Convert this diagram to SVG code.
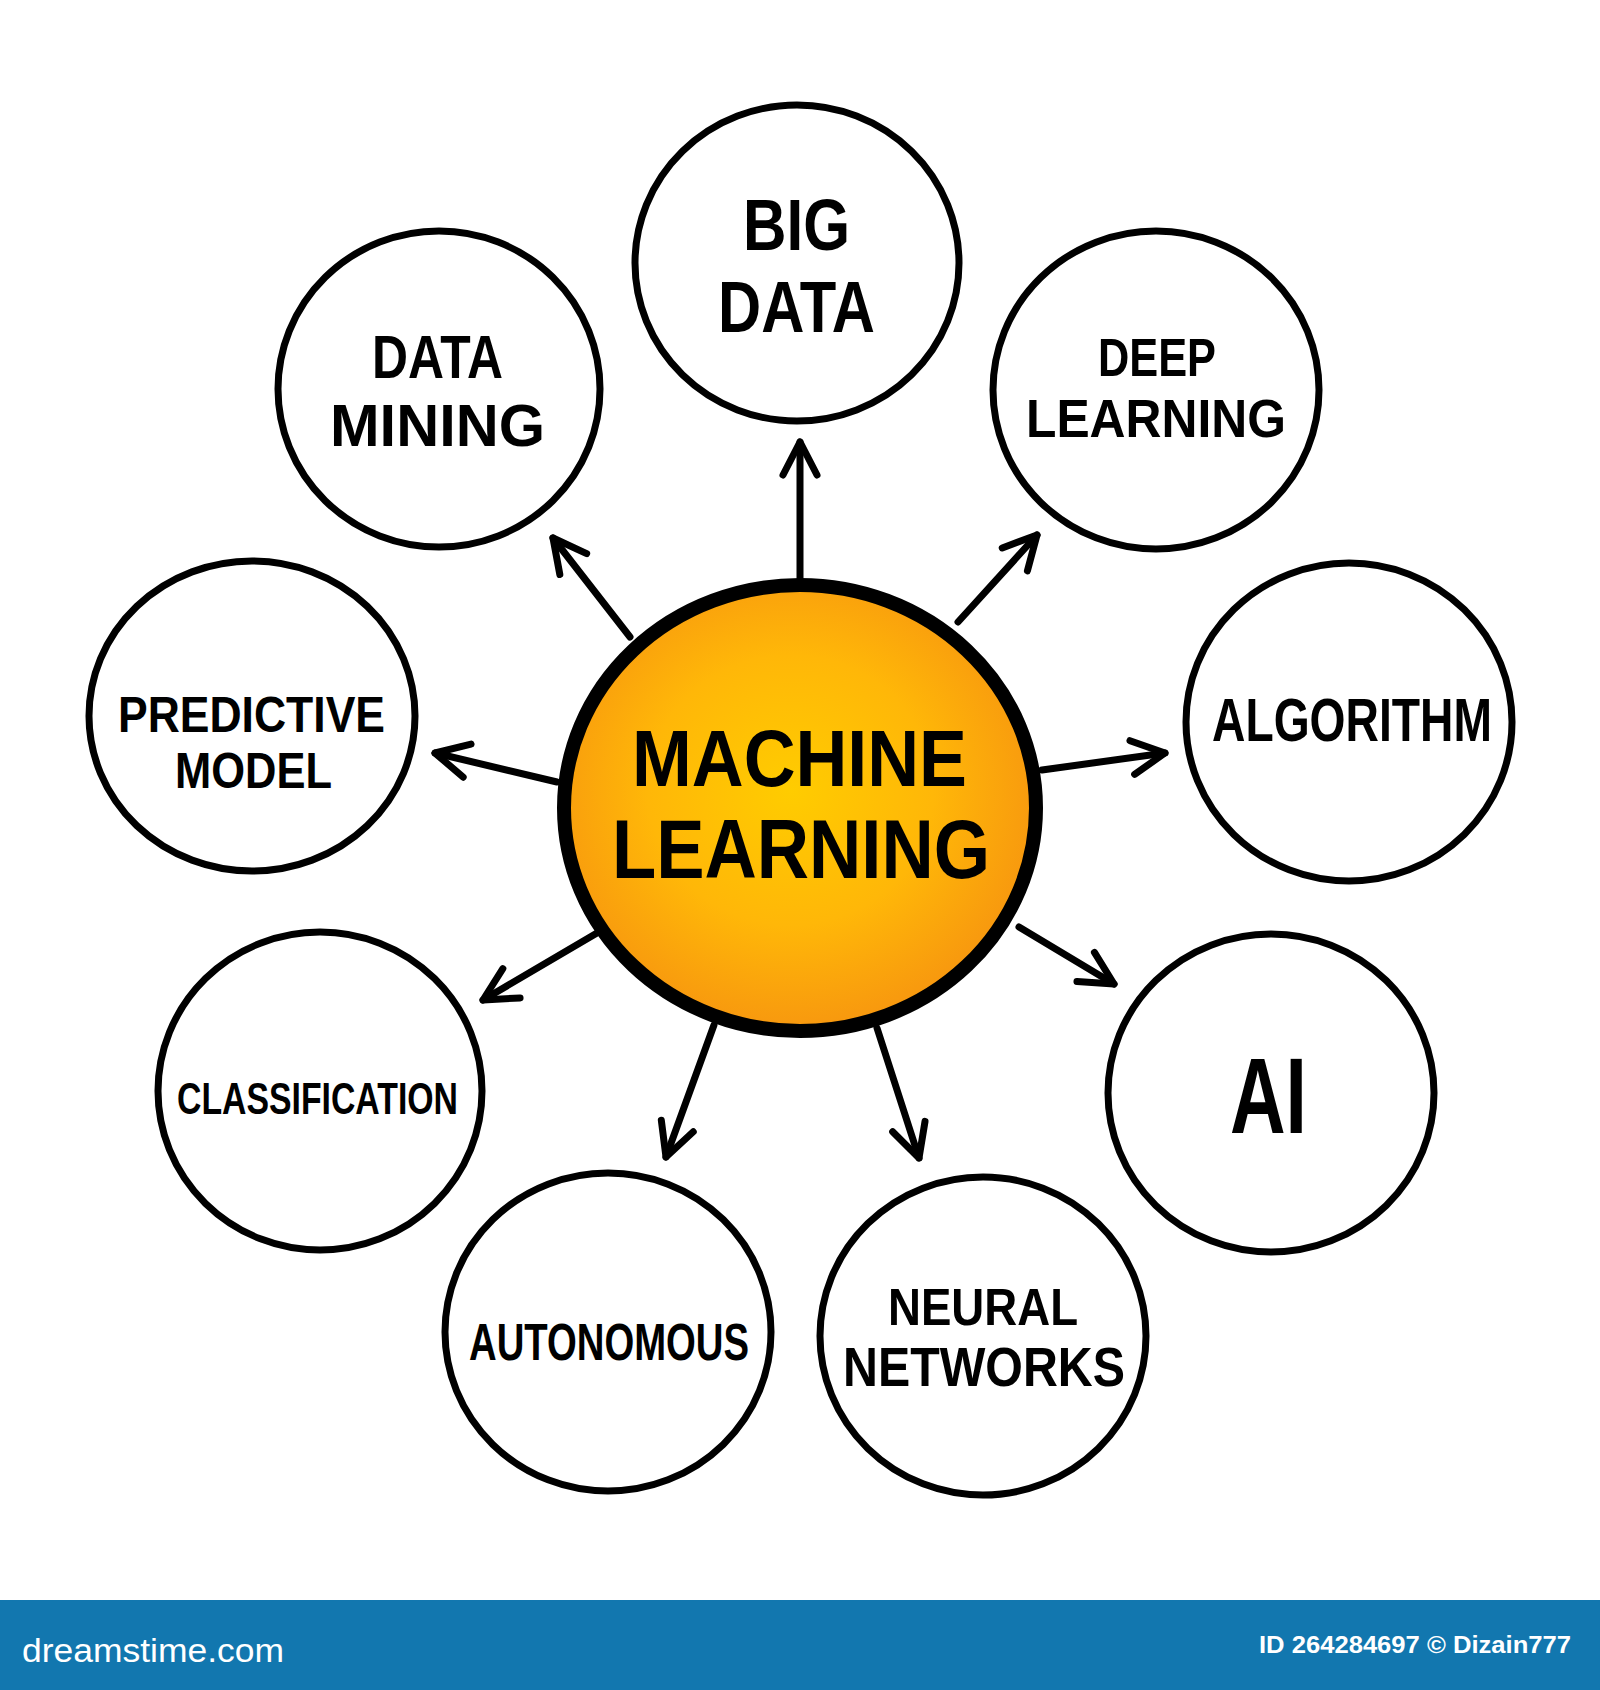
<svg xmlns="http://www.w3.org/2000/svg" width="1600" height="1690" viewBox="0 0 1600 1690">
<style>
.node{fill:#fff;stroke:#000;stroke-width:7}
.lbl{font-family:"Liberation Sans",Arial,sans-serif;font-weight:700;fill:#000}
.conn{stroke:#000;stroke-width:7;stroke-linecap:round;fill:none}
.foot{font-family:"Liberation Sans",Arial,sans-serif;fill:#fff}
</style>
<defs>
<radialGradient id="g" cx="0.48" cy="0.46" r="0.55">
<stop offset="0" stop-color="#FFCC00"/>
<stop offset="0.55" stop-color="#FFB708"/>
<stop offset="1" stop-color="#F7960F"/>
</radialGradient>
<marker id="ah" markerUnits="userSpaceOnUse" orient="auto" refX="0" refY="0" markerWidth="80" markerHeight="80" overflow="visible">
<path d="M -33 -17 L 0 0 L -33 17" fill="none" stroke="#000" stroke-width="7" stroke-linecap="round" stroke-linejoin="round"/>
</marker>
</defs>
<rect x="0" y="0" width="1600" height="1690" fill="#fff"/>

<g id="connectors">
<line class="conn" x1="800" y1="578" x2="800" y2="442" marker-end="url(#ah)"/>
<line class="conn" x1="630" y1="637" x2="553" y2="538" marker-end="url(#ah)"/>
<line class="conn" x1="958" y1="622" x2="1037" y2="535" marker-end="url(#ah)"/>
<line class="conn" x1="557" y1="782" x2="435" y2="753" marker-end="url(#ah)"/>
<line class="conn" x1="1042" y1="770" x2="1165" y2="753" marker-end="url(#ah)"/>
<line class="conn" x1="597" y1="933" x2="483" y2="1000" marker-end="url(#ah)"/>
<line class="conn" x1="1019" y1="927" x2="1114" y2="984" marker-end="url(#ah)"/>
<line class="conn" x1="714" y1="1025" x2="666" y2="1157" marker-end="url(#ah)"/>
<line class="conn" x1="877" y1="1028" x2="919" y2="1158" marker-end="url(#ah)"/>
</g>

<g id="machine-learning">
<ellipse cx="800" cy="808" rx="236" ry="223" fill="url(#g)" stroke="#000" stroke-width="14"/>
<text class="lbl" x="632" y="786" font-size="80" textLength="335" lengthAdjust="spacingAndGlyphs">MACHINE</text>
<text class="lbl" x="612" y="878" font-size="83" textLength="378" lengthAdjust="spacingAndGlyphs">LEARNING</text>
</g>

<g id="big-data">
<ellipse class="node" cx="797" cy="263" rx="162" ry="158"/>
<text class="lbl" x="743" y="250" font-size="72" textLength="107" lengthAdjust="spacingAndGlyphs">BIG</text>
<text class="lbl" x="718" y="332" font-size="73" textLength="157" lengthAdjust="spacingAndGlyphs">DATA</text>
</g>

<g id="data-mining">
<ellipse class="node" cx="439" cy="389" rx="161" ry="158"/>
<text class="lbl" x="372" y="378" font-size="62" textLength="131" lengthAdjust="spacingAndGlyphs">DATA</text>
<text class="lbl" x="330" y="446" font-size="60" textLength="215" lengthAdjust="spacingAndGlyphs">MINING</text>
</g>

<g id="deep-learning">
<ellipse class="node" cx="1156" cy="390" rx="163" ry="159"/>
<text class="lbl" x="1098" y="376" font-size="54" textLength="118" lengthAdjust="spacingAndGlyphs">DEEP</text>
<text class="lbl" x="1026" y="437" font-size="54" textLength="260" lengthAdjust="spacingAndGlyphs">LEARNING</text>
</g>

<g id="predictive-model">
<ellipse class="node" cx="252" cy="716" rx="163" ry="155"/>
<text class="lbl" x="118" y="732" font-size="50" textLength="267" lengthAdjust="spacingAndGlyphs">PREDICTIVE</text>
<text class="lbl" x="175" y="788" font-size="50" textLength="157" lengthAdjust="spacingAndGlyphs">MODEL</text>
</g>

<g id="algorithm">
<ellipse class="node" cx="1349" cy="722" rx="163" ry="159"/>
<text class="lbl" x="1212" y="741" font-size="61" textLength="280" lengthAdjust="spacingAndGlyphs">ALGORITHM</text>
</g>

<g id="classification">
<ellipse class="node" cx="320" cy="1091" rx="162" ry="159"/>
<text class="lbl" x="177" y="1114" font-size="45" textLength="281" lengthAdjust="spacingAndGlyphs">CLASSIFICATION</text>
</g>

<g id="ai">
<ellipse class="node" cx="1271" cy="1093" rx="163" ry="159"/>
<text class="lbl" x="1230" y="1133" font-size="108" textLength="77" lengthAdjust="spacingAndGlyphs">AI</text>
</g>

<g id="autonomous">
<ellipse class="node" cx="608" cy="1332" rx="163" ry="159"/>
<text class="lbl" x="469" y="1360" font-size="52" textLength="280" lengthAdjust="spacingAndGlyphs">AUTONOMOUS</text>
</g>

<g id="neural-networks">
<ellipse class="node" cx="983" cy="1336" rx="163" ry="159"/>
<text class="lbl" x="888" y="1325" font-size="52" textLength="190" lengthAdjust="spacingAndGlyphs">NEURAL</text>
<text class="lbl" x="843" y="1386" font-size="55" textLength="282" lengthAdjust="spacingAndGlyphs">NETWORKS</text>
</g>

<g id="footer">
<rect x="0" y="1600" width="1600" height="90" fill="#1277AF"/>
<text class="foot" x="22" y="1662" font-size="34" textLength="262" lengthAdjust="spacingAndGlyphs">dreamstime.com</text>
<text class="foot" x="1259" y="1653" font-size="24" font-weight="700" textLength="312" lengthAdjust="spacingAndGlyphs">ID 264284697 © Dizain777</text>
</g>
</svg>
